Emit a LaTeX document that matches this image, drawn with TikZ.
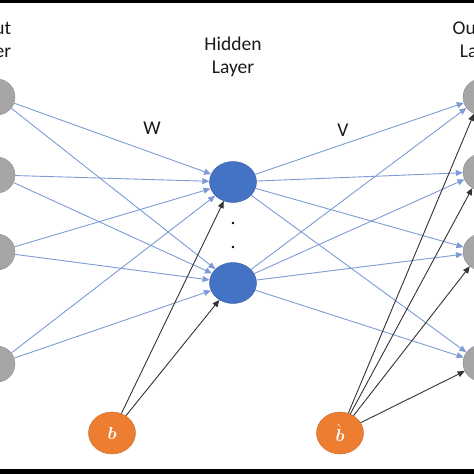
\documentclass[tikz,border=0pt]{standalone}
\usepackage{bm}
\usepackage{fontspec}
\setmainfont{Carlito}
\usetikzlibrary{positioning,shapes.geometric,arrows.meta,calc}
\definecolor{hidblue}{RGB}{68,114,196}
\definecolor{edgeblue}{RGB}{125,155,212}
\definecolor{biasorange}{RGB}{237,125,49}
\definecolor{unitgray}{RGB}{166,166,166}
\begin{document}
\begin{tikzpicture}[x=1pt,y=-1pt,
  unit/.style={ellipse,draw=black!45,fill=unitgray,minimum width=36pt,minimum height=36pt,inner sep=0pt},
  hid/.style={ellipse,draw=hidblue!80!black,fill=hidblue,minimum width=47pt,minimum height=41pt,inner sep=0pt},
  bias/.style={ellipse,draw=biasorange!85!black,fill=biasorange,minimum width=47pt,minimum height=42pt,inner sep=0pt,text=white,font=\fontsize{17}{17}\selectfont},
  lbl/.style={align=center,text=black!90,font=\fontsize{19.5}{23}\selectfont},
  wire/.style={edgeblue,line width=0.9pt,-{Triangle[length=7pt,width=6pt]}},
  bwire/.style={black!80,line width=0.9pt,-{Triangle[length=7pt,width=6pt]}}]
\useasboundingbox (0,0) rectangle (474,474);
\clip (0,0) rectangle (474,474);
% layer titles
\node[lbl] (intitle) at (-10,41) {Input\\Layer};
\node[lbl] (hidtitle) at (233,57) {Hidden\\Layer};
\node[lbl] (outtitle) at (481,41) {Output\\Layer};
% units
\node[unit] (in1) at (-3,97) {};
\node[unit] (in2) at (-3,175) {};
\node[unit] (in3) at (-3,252) {};
\node[unit] (in4) at (-3,364) {};
\node[hid] (hid1) at (233,182) {};
\node[hid] (hid2) at (233,283) {};
\node[unit] (out1) at (481,97) {};
\node[unit] (out2) at (481,172) {};
\node[unit] (out3) at (481,252) {};
\node[unit] (out4) at (481,363) {};
\node[bias] (b1) at (112,433) {$\bm{b}$};
\node[bias] (b2) at (340,433) {$\grave{\bm{b}}$};
\fill (233,223) circle (1.3pt);
\fill (233,247) circle (1.3pt);
% connections
\foreach \i in {1,...,4}
  \foreach \j in {1,2}
    \draw[wire] (in\i) -- (hid\j);
\foreach \j in {1,2}
  \foreach \k in {1,...,4}
    \draw[wire] (hid\j) -- (out\k);
\foreach \j in {1,2}
  \draw[bwire] (b1) -- (hid\j);
\foreach \k in {1,...,4}
  \draw[bwire] (b2) -- (out\k);
% weight labels
\node[lbl] (wlab) at (152,128) {W};
\node[lbl] (vlab) at (343,130) {V};
% frame strips
\fill[black] (0,0) rectangle (474,3);
\fill[black] (0,469) rectangle (474,474);
\end{tikzpicture}
\end{document}
